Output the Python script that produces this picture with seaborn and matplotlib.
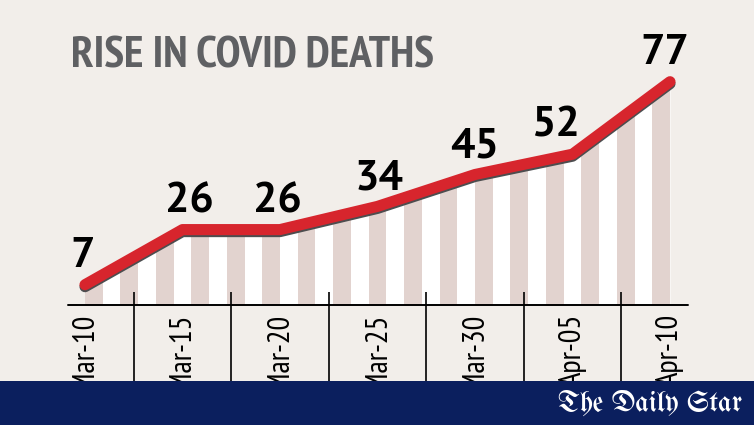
import numpy as np
import pandas as pd
import matplotlib
matplotlib.use("Agg")
import matplotlib.pyplot as plt
import seaborn as sns
from matplotlib.patches import Rectangle
from matplotlib.transforms import ScaledTranslation

# data
dates = ["Mar-10", "Mar-15", "Mar-20", "Mar-25", "Mar-30", "Apr-05", "Apr-10"]
deaths = [7, 26, 26, 34, 45, 52, 77]
title = "RISE IN COVID DEATHS"
brand = "The Daily Star"

BG = "#f2eeea"
PINK = "#e2d3cf"
RED = "#d7252d"
NAVY = "#0b1f5e"
GREY = "#5f6063"

sns.set_theme(style="white")
plt.rcParams["font.family"] = ["PT Sans Narrow", "DejaVu Sans"]

df = pd.DataFrame({"date": dates, "deaths": deaths, "x": range(len(dates))})

fig = plt.figure(figsize=(7.54, 4.25), dpi=100, facecolor=BG)
W, H = 754, 425
ax = fig.add_axes([0, 120 / H, 1, 305 / H])
ax.set_facecolor(BG)
xpx0, step = 85, 97.5
ax.set_xlim(-xpx0 / step, (W - xpx0) / step)
ax.set_ylim(0, 305 / 2.9)
for s in ax.spines.values():
    s.set_visible(False)

# white area under the line, pink stripes clipped to it
area = ax.fill_between(df["x"], 0, df["deaths"], color="white", lw=0, zorder=1)
clip = area.get_paths()[0]
n = len(dates) - 1
sw = n / 33
bars = ax.bar(np.arange(17) * 2 * sw, max(deaths), width=sw, align="edge",
              color=PINK, lw=0, zorder=2)
for b in bars:
    b.set_clip_path(clip, ax.transData)

# shadow + red line
sns.lineplot(data=df, x="x", y="deaths", ax=ax, color="#4d4d4f", lw=8,
             zorder=3, solid_capstyle="round", solid_joinstyle="round")
ax.lines[-1].set_transform(ax.transData + ScaledTranslation(0, -2 / 100, fig.dpi_scale_trans))
sns.lineplot(data=df, x="x", y="deaths", ax=ax, color=RED, lw=8,
             zorder=4, solid_capstyle="round", solid_joinstyle="round")

# value labels
dx = [-2, 5, -2, 1, 0, -12, -4]
for i, v in enumerate(deaths):
    ax.annotate(str(v), (i, v), xytext=(dx[i], 6), textcoords="offset points",
                ha="center", va="bottom", fontsize=31, fontweight="bold",
                family=["PT Sans", "DejaVu Sans"], color="black", zorder=6)

# axis line and separators
ax.plot([-17 / step, 603 / step], [0, 0], color="black", lw=1.4, clip_on=False, zorder=5)
ax.vlines(np.arange(n) + 0.5, -30, 4.5, color="black", lw=1.2, clip_on=False, zorder=5)

ax.set_xticks(df["x"])
ax.set_xticklabels(dates, rotation=90, fontsize=22, color="black")
ax.tick_params(axis="x", length=0, pad=6)
ax.set_yticks([])
ax.set_xlabel("")
ax.set_ylabel("")

fig.text(71 / W, 1 - 68 / H, title, fontsize=32.5, fontweight="bold",
         color=GREY, ha="left", va="baseline")

# footer band
fig.add_artist(Rectangle((0, 0), 1, 44 / H, transform=fig.transFigure,
                         facecolor=NAVY, edgecolor="none", zorder=10))
fig.text(742 / W, 21 / H, brand, fontsize=21,
         family=["UnifrakturMaguntia", "Pirata One", "DejaVu Serif"],
         color="white", ha="right", va="center", zorder=11)

fig.savefig("out.png", dpi=100, facecolor=BG)
